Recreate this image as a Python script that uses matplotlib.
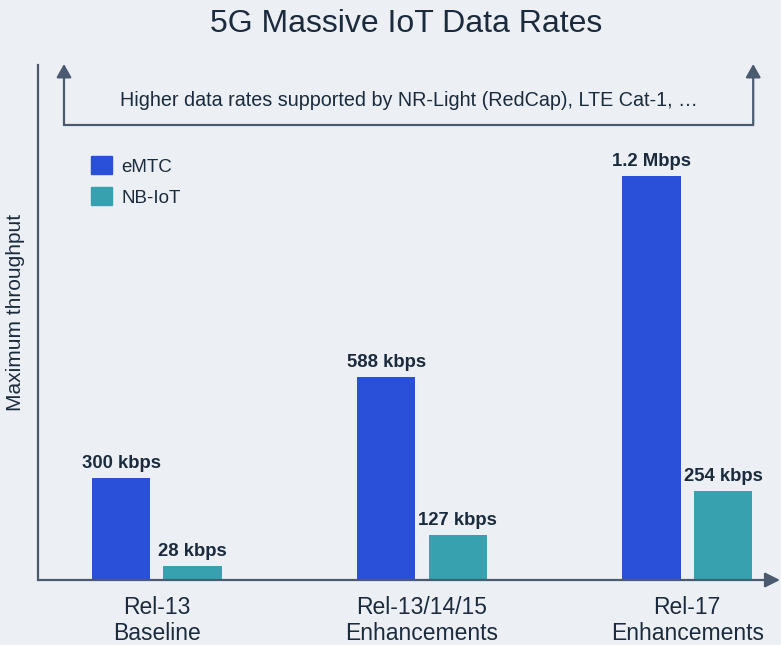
import matplotlib
matplotlib.use('Agg')
import matplotlib.pyplot as plt
from matplotlib.patches import Patch

plt.rcParams['font.family'] = ['Liberation Sans', 'DejaVu Sans']

# data (bar heights as drawn in the picture - chart is not to scale)
groups = ['Rel-13\nBaseline', 'Rel-13/14/15\nEnhancements', 'Rel-17\nEnhancements']
emtc_height = [102, 203, 404]
nbiot_height = [14, 45, 89]
emtc_labels = ['300 kbps', '588 kbps', '1.2 Mbps']
nbiot_labels = ['28 kbps', '127 kbps', '254 kbps']
series_names = ['eMTC', 'NB-IoT']

bg = '#ECF0F5'
blue = '#2A4FD8'
teal = '#38A1B0'
line_col = '#4B5A6E'
txt = '#1B2B3D'

fig = plt.figure(figsize=(7.81, 6.45), dpi=100, facecolor=bg)
ax = fig.add_axes([38 / 781, 65 / 645, 742 / 781, 515 / 645])
ax.set_facecolor(bg)
ax.set_xlim(-0.448, 2.35)
ax.set_ylim(0, 515)

x = range(len(groups))
w = 0.22
off = 0.135
b1 = ax.bar([i - off for i in x], emtc_height, w, color=blue)
b2 = ax.bar([i + off for i in x], nbiot_height, w, color=teal)

for bars, labs in [(b1, emtc_labels), (b2, nbiot_labels)]:
    for r, lab in zip(bars, labs):
        ax.annotate(lab, (r.get_x() + r.get_width() / 2, r.get_height()),
                    xytext=(0, 4), textcoords='offset points', ha='center',
                    va='bottom', fontsize=13.3, fontweight='bold', color=txt)

for s in ax.spines.values():
    s.set_visible(False)
ax.set_xticks([])
ax.set_yticks([])

# axes lines
ax.plot([-0.448, -0.448], [0, 515], color=line_col, lw=1.6, clip_on=False)
ax.annotate('', xy=(2.35, 0), xytext=(-0.448, 0),
            arrowprops=dict(arrowstyle='-|>,head_width=0.45,head_length=0.9',
                            color=line_col, lw=1.6, shrinkA=0, shrinkB=0),
            annotation_clip=False)

# bracket with arrows
xl, xr, yb = -0.35, 2.249, 455
ax.plot([xl, xr], [yb, yb], color=line_col, lw=1.6, clip_on=False)
for xx in (xl, xr):
    ax.annotate('', xy=(xx, 516), xytext=(xx, yb + 1),
                arrowprops=dict(arrowstyle='-|>,head_width=0.45,head_length=0.8',
                                color=line_col, lw=1.6, shrinkA=0, shrinkB=0),
                annotation_clip=False)
ax.text((xl + xr) / 2 - 0.0, 480,
        'Higher data rates supported by NR-Light (RedCap), LTE Cat-1, \u2026',
        ha='center', va='center', fontsize=14.2, color=txt)

# group labels
for i, g in zip(x, groups):
    ax.text(i, -16, g, ha='center', va='top', fontsize=16.5, color=txt,
            linespacing=1.15)

# legend
handles = [Patch(color=blue), Patch(color=teal)]
fig.legend(handles, series_names, loc='upper left',
           bbox_to_anchor=(82 / 781, 1 - 147 / 645), frameon=False,
           fontsize=13.5, handlelength=1.1, handleheight=1.1,
           handletextpad=0.5, labelspacing=0.62, borderpad=0,
           labelcolor=txt)

fig.text(406 / 781, 1 - 24 / 645, '5G Massive IoT Data Rates', ha='center',
         va='center', fontsize=23, color=txt)
fig.text(16 / 781, 1 - 312 / 645, 'Maximum throughput', rotation=90,
         ha='center', va='center', fontsize=15, color=txt)

fig.savefig('out.png', dpi=100, facecolor=bg)
